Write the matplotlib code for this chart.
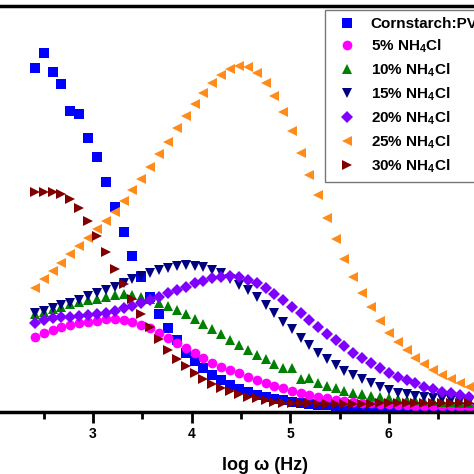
import numpy as np
import matplotlib.pyplot as plt

plt.rcParams['font.family'] = ['Liberation Sans', 'DejaVu Sans']
plt.rcParams['font.weight'] = 'bold'
plt.rcParams['mathtext.fontset'] = 'custom'
plt.rcParams['mathtext.rm'] = 'Liberation Sans:bold'
plt.rcParams['mathtext.it'] = 'Liberation Sans:bold'
plt.rcParams['mathtext.bf'] = 'Liberation Sans:bold'

# log frequency grid (shared by all samples)
log_w = [2.41, 2.50, 2.59, 2.68, 2.77, 2.86, 2.95, 3.04, 3.13, 3.22,
         3.31, 3.40, 3.49, 3.58, 3.67, 3.76, 3.85, 3.94, 4.03, 4.12,
         4.21, 4.30, 4.39, 4.48, 4.57, 4.66, 4.75, 4.84, 4.93, 5.02,
         5.11, 5.19, 5.28, 5.37, 5.46, 5.55, 5.64, 5.73, 5.82, 5.91,
         6.00, 6.09, 6.18, 6.27, 6.36, 6.45, 6.54, 6.63, 6.72, 6.81]

# значения (отн. ед.), ось Y на картинке обрезана
pva = [3.44, 3.59, 3.40, 3.28, 3.01, 2.98, 2.74, 2.55, 2.30, 2.05,
       1.80, 1.56, 1.35, 1.15, 0.98, 0.84, 0.72, 0.59, 0.51, 0.44,
       0.37, 0.32, 0.27, 0.23, 0.20, 0.17, 0.15, 0.13, 0.12, 0.10,
       0.09, 0.08, 0.07, 0.07, 0.06, 0.06, 0.05, 0.05, 0.05, 0.05,
       0.04, 0.04, 0.04, 0.04, 0.04, 0.04, 0.04, 0.04, 0.04, 0.04]
nh4_5 = [0.75, 0.79, 0.82, 0.85, 0.87, 0.89, 0.90, 0.91, 0.93, 0.93,
         0.92, 0.90, 0.87, 0.84, 0.79, 0.74, 0.69, 0.64, 0.59, 0.54,
         0.49, 0.45, 0.42, 0.39, 0.35, 0.32, 0.29, 0.26, 0.24, 0.21,
         0.19, 0.17, 0.15, 0.14, 0.12, 0.11, 0.10, 0.09, 0.09, 0.08,
         0.08, 0.07, 0.07, 0.06, 0.06, 0.06, 0.06, 0.06, 0.05, 0.05]
nh4_10 = [0.98, 1.00, 1.03, 1.05, 1.08, 1.10, 1.12, 1.13, 1.15, 1.17,
          1.18, 1.17, 1.15, 1.13, 1.09, 1.06, 1.02, 0.98, 0.93, 0.88,
          0.83, 0.78, 0.72, 0.67, 0.62, 0.57, 0.53, 0.48, 0.44, 0.44,
          0.33, 0.34, 0.29, 0.26, 0.24, 0.21, 0.19, 0.18, 0.16, 0.15,
          0.14, 0.13, 0.12, 0.12, 0.11, 0.11, 0.10, 0.10, 0.09, 0.09]
nh4_15 = [0.99, 1.01, 1.04, 1.07, 1.09, 1.12, 1.16, 1.19, 1.22, 1.25,
          1.29, 1.33, 1.36, 1.39, 1.42, 1.44, 1.46, 1.47, 1.46, 1.45,
          1.42, 1.39, 1.33, 1.27, 1.22, 1.15, 1.07, 0.99, 0.90, 0.83,
          0.74, 0.67, 0.59, 0.53, 0.47, 0.41, 0.37, 0.33, 0.29, 0.25,
          0.22, 0.19, 0.18, 0.16, 0.15, 0.14, 0.13, 0.12, 0.11, 0.10]
nh4_20 = [0.89, 0.92, 0.94, 0.95, 0.95, 0.96, 0.97, 0.98, 0.99, 1.01,
          1.04, 1.06, 1.09, 1.12, 1.15, 1.19, 1.22, 1.25, 1.29, 1.31,
          1.34, 1.35, 1.36, 1.35, 1.32, 1.29, 1.24, 1.18, 1.12, 1.05,
          0.99, 0.92, 0.85, 0.78, 0.72, 0.66, 0.59, 0.54, 0.49, 0.44,
          0.39, 0.35, 0.32, 0.29, 0.25, 0.23, 0.20, 0.19, 0.17, 0.15]
nh4_25 = [1.24, 1.33, 1.41, 1.49, 1.58, 1.66, 1.74, 1.83, 1.91, 2.00,
          2.11, 2.22, 2.33, 2.45, 2.58, 2.70, 2.84, 2.96, 3.08, 3.19,
          3.29, 3.37, 3.43, 3.46, 3.45, 3.39, 3.29, 3.16, 3.00, 2.81,
          2.59, 2.37, 2.17, 1.94, 1.73, 1.53, 1.35, 1.19, 1.05, 0.91,
          0.79, 0.70, 0.62, 0.54, 0.48, 0.42, 0.37, 0.33, 0.29, 0.25]
nh4_30 = [2.20, 2.20, 2.20, 2.18, 2.13, 2.04, 1.91, 1.76, 1.60, 1.43,
          1.28, 1.13, 0.98, 0.85, 0.73, 0.62, 0.53, 0.46, 0.39, 0.33,
          0.28, 0.24, 0.21, 0.18, 0.15, 0.14, 0.12, 0.10, 0.09, 0.09,
          0.09, 0.09, 0.08, 0.08, 0.08, 0.08, 0.08, 0.08, 0.08, 0.09,
          0.09, 0.09, 0.09, 0.09, 0.09, 0.09, 0.09, 0.09, 0.09, 0.09]

series = [
    (pva, 'Cornstarch:PVA', 's', '#0000FF', 6.5),
    (nh4_5, '5% NH$_4$Cl', 'o', '#FF00FF', 7),
    (nh4_10, '10% NH$_4$Cl', '^', '#008000', 7.5),
    (nh4_15, '15% NH$_4$Cl', 'v', '#000080', 7.5),
    (nh4_20, '20% NH$_4$Cl', 'D', '#8000FF', 6),
    (nh4_25, '25% NH$_4$Cl', '<', '#FF8C1A', 7.5),
    (nh4_30, '30% NH$_4$Cl', '>', '#800000', 7.5),
]

fig = plt.figure(figsize=(4.74, 4.74), dpi=100)
ax = fig.add_axes([0, 0.1308, 1, 0.8565])

for vals, lab, mk, col, ms in series:
    ax.plot(log_w, vals, linestyle='none', marker=mk, color=col,
            markersize=ms, markeredgewidth=0, label=lab)

ax.set_xlim(2.057, 6.864)
ax.set_ylim(0, 4.06)
ax.set_xticks([3, 4, 5, 6])
ax.set_xticks([2.5, 3.5, 4.5, 5.5, 6.5], minor=True)
ax.set_yticks([])
ax.tick_params(axis='x', which='major', direction='out', length=8, width=2,
               labelsize=10, pad=3)
ax.tick_params(axis='x', which='minor', direction='out', length=5, width=2)
for side in ['left', 'right']:
    ax.spines[side].set_visible(False)
for side in ['top', 'bottom']:
    ax.spines[side].set_linewidth(2.5)

ax.set_xlabel('log ω (Hz)', fontsize=13, fontweight='bold', labelpad=11)
ax.xaxis.label.set_x(265 / 474)   # исходная ось шире, подпись смещена

leg = ax.legend(loc='upper left', bbox_to_anchor=(325 / 474, 1 - 10 / 474),
                bbox_transform=fig.transFigure, fontsize=11, frameon=True,
                fancybox=False, borderaxespad=0, handlelength=2.0,
                handletextpad=0.55, borderpad=0.45, labelspacing=0.43)
leg.get_frame().set_edgecolor('#555555')
leg.get_frame().set_linewidth(1.0)

plt.savefig('out.png', dpi=100)
